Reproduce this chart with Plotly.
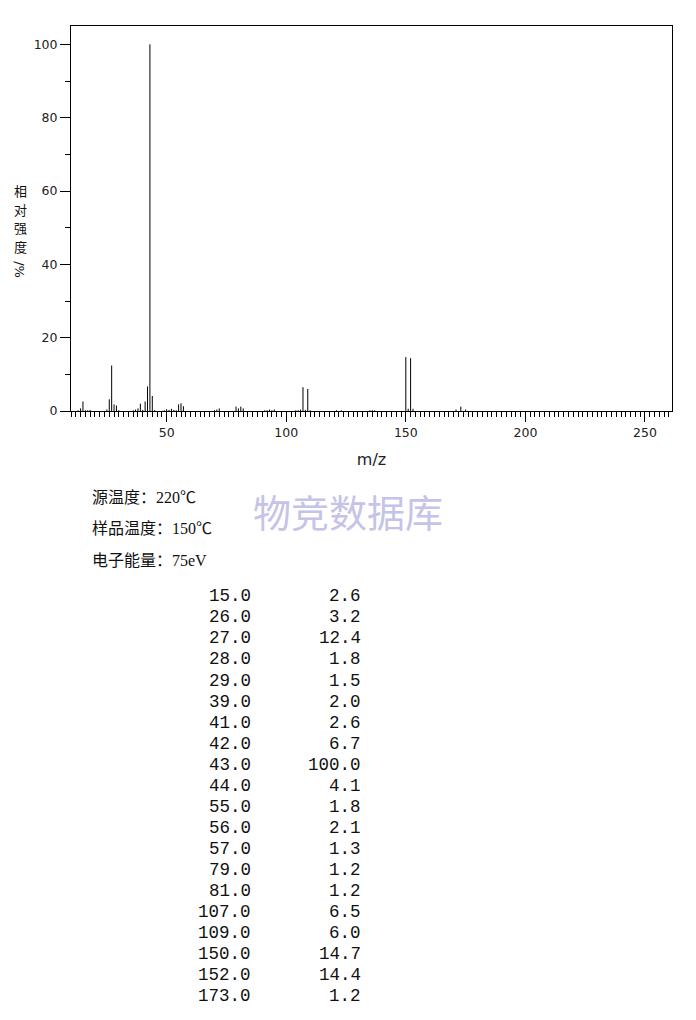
import plotly.graph_objects as go

# ---- data (m/z, relative intensity %) ----
mz = [13, 14, 15, 16, 17, 18, 25, 26, 27, 28, 29, 30, 36, 37, 38, 39, 40, 41, 42, 43,
      44, 45, 49, 50, 51, 52, 53, 54, 55, 56, 57, 70, 71, 72, 79, 80, 81, 82, 91, 92,
      93, 94, 95, 104, 105, 106, 107, 108, 109, 110, 121, 123, 135, 136, 137, 150,
      151, 152, 153, 171, 173, 175]
intensity = [0.2, 0.7, 2.6, 0.2, 0.2, 0.3, 0.4, 3.2, 12.4, 1.8, 1.5, 0.2, 0.2, 0.4, 0.7,
             2.0, 0.3, 2.6, 6.7, 100.0, 4.1, 0.25, 0.2, 0.5, 0.3, 0.6, 0.3, 0.2, 1.8,
             2.1, 1.3, 0.2, 0.4, 0.7, 1.2, 0.7, 1.2, 0.7, 0.2, 0.2, 0.4, 0.2, 0.4, 0.2,
             0.2, 0.4, 6.5, 0.3, 6.0, 0.2, 0.2, 0.2, 0.2, 0.2, 0.2, 14.7, 0.6, 14.4,
             0.6, 0.4, 1.2, 0.4]
x_ticks = [50, 100, 150, 200, 250]
y_ticks = [0, 20, 40, 60, 80, 100]
info_lines = ["源温度：220℃", "样品温度：150℃", "电子能量：75eV"]
y_title_chars = ["相", "对", "强", "度"]
watermark = "物竞数据库"

# table: peaks listed with intensity >= 1.2
table_mz = [m for m, v in zip(mz, intensity) if v >= 1.2]
table_int = [v for m, v in zip(mz, intensity) if v >= 1.2]

# ---- stick spectrum ----
xs, ys = [], []
for m, v in zip(mz, intensity):
    xs += [m, m, None]
    ys += [0, v, None]

fig = go.Figure(go.Scatter(x=xs, y=ys, mode="lines",
                           line=dict(color="black", width=1),
                           hoverinfo="skip", showlegend=False))

L, R, T, B = 71, 672, 26, 410.7
W, H = 696, 1020


def px(x):
    return (x - L) / (R - L)


def py(y):
    return (B - y) / (B - T)


tickfont = dict(family="DejaVu Sans", size=12.5, color="#222")
fig.update_layout(
    width=W, height=H,
    margin=dict(l=L, r=W - R, t=T, b=H - B, pad=0),
    plot_bgcolor="white", paper_bgcolor="white",
    showlegend=False,
    xaxis=dict(range=[10, 261.3], tickvals=x_ticks, ticks="outside", ticklen=10,
               tickwidth=1, tickcolor="black",
               minor=dict(dtick=2, tick0=0, ticks="outside", ticklen=5,
                          tickcolor="black", tickwidth=1),
               showline=True, linecolor="black", linewidth=1, mirror=True,
               showgrid=False, zeroline=False, tickfont=tickfont,
               title=dict(text="m/z", font=dict(family="DejaVu Sans", size=16, color="#222"),
                          standoff=14)),
    yaxis=dict(range=[0, 105], tickvals=y_ticks, ticks="outside", ticklen=10,
               tickwidth=1, tickcolor="black",
               minor=dict(dtick=10, tick0=0, ticks="outside", ticklen=5,
                          tickcolor="black", tickwidth=1),
               showline=True, linecolor="black", linewidth=1, mirror=True,
               showgrid=False, zeroline=False, tickfont=tickfont),
)

ann = []
cjk = "Noto Sans CJK SC"
# y-axis title (vertical stacked, one character per annotation)
for i, ch in enumerate(y_title_chars):
    ann.append(dict(text=ch, x=px(20), y=py(190 + 18.9 * i), xref="paper", yref="paper",
                    showarrow=False, xanchor="center", yanchor="middle",
                    font=dict(family=cjk, size=13, color="#111")))
ann.append(dict(text="/%", x=px(20), y=py(269), xref="paper", yref="paper",
                showarrow=False, xanchor="center", yanchor="middle", textangle=90,
                font=dict(family="DejaVu Sans", size=13, color="#111")))

# info lines
for i, t in enumerate(info_lines):
    ann.append(dict(text=t, x=px(90), y=py(497 + 31.5 * i), xref="paper", yref="paper",
                    showarrow=False, xanchor="left", yanchor="middle",
                    font=dict(family="Liberation Serif, " + cjk, size=16, color="#111")))

# watermark
ann.append(dict(text=watermark, x=px(348), y=py(510), xref="paper", yref="paper",
                showarrow=False, xanchor="center", yanchor="middle",
                font=dict(family=cjk, size=38, color="rgb(196,196,232)")))

# peak table
mono = dict(family="Liberation Mono", size=17.5, color="#111")
for i, (m, v) in enumerate(zip(table_mz, table_int)):
    yy = py(596 + 21 * i)
    ann.append(dict(text=f"{m:.1f}", x=px(253), y=yy, xref="paper", yref="paper",
                    showarrow=False, xanchor="right", yanchor="middle", font=mono))
    ann.append(dict(text=f"{v:.1f}", x=px(363), y=yy, xref="paper", yref="paper",
                    showarrow=False, xanchor="right", yanchor="middle", font=mono))

fig.update_layout(annotations=ann)

fig.write_html("out.html", config={"displayModeBar": False},
               post_script="document.body.style.margin='0';")
